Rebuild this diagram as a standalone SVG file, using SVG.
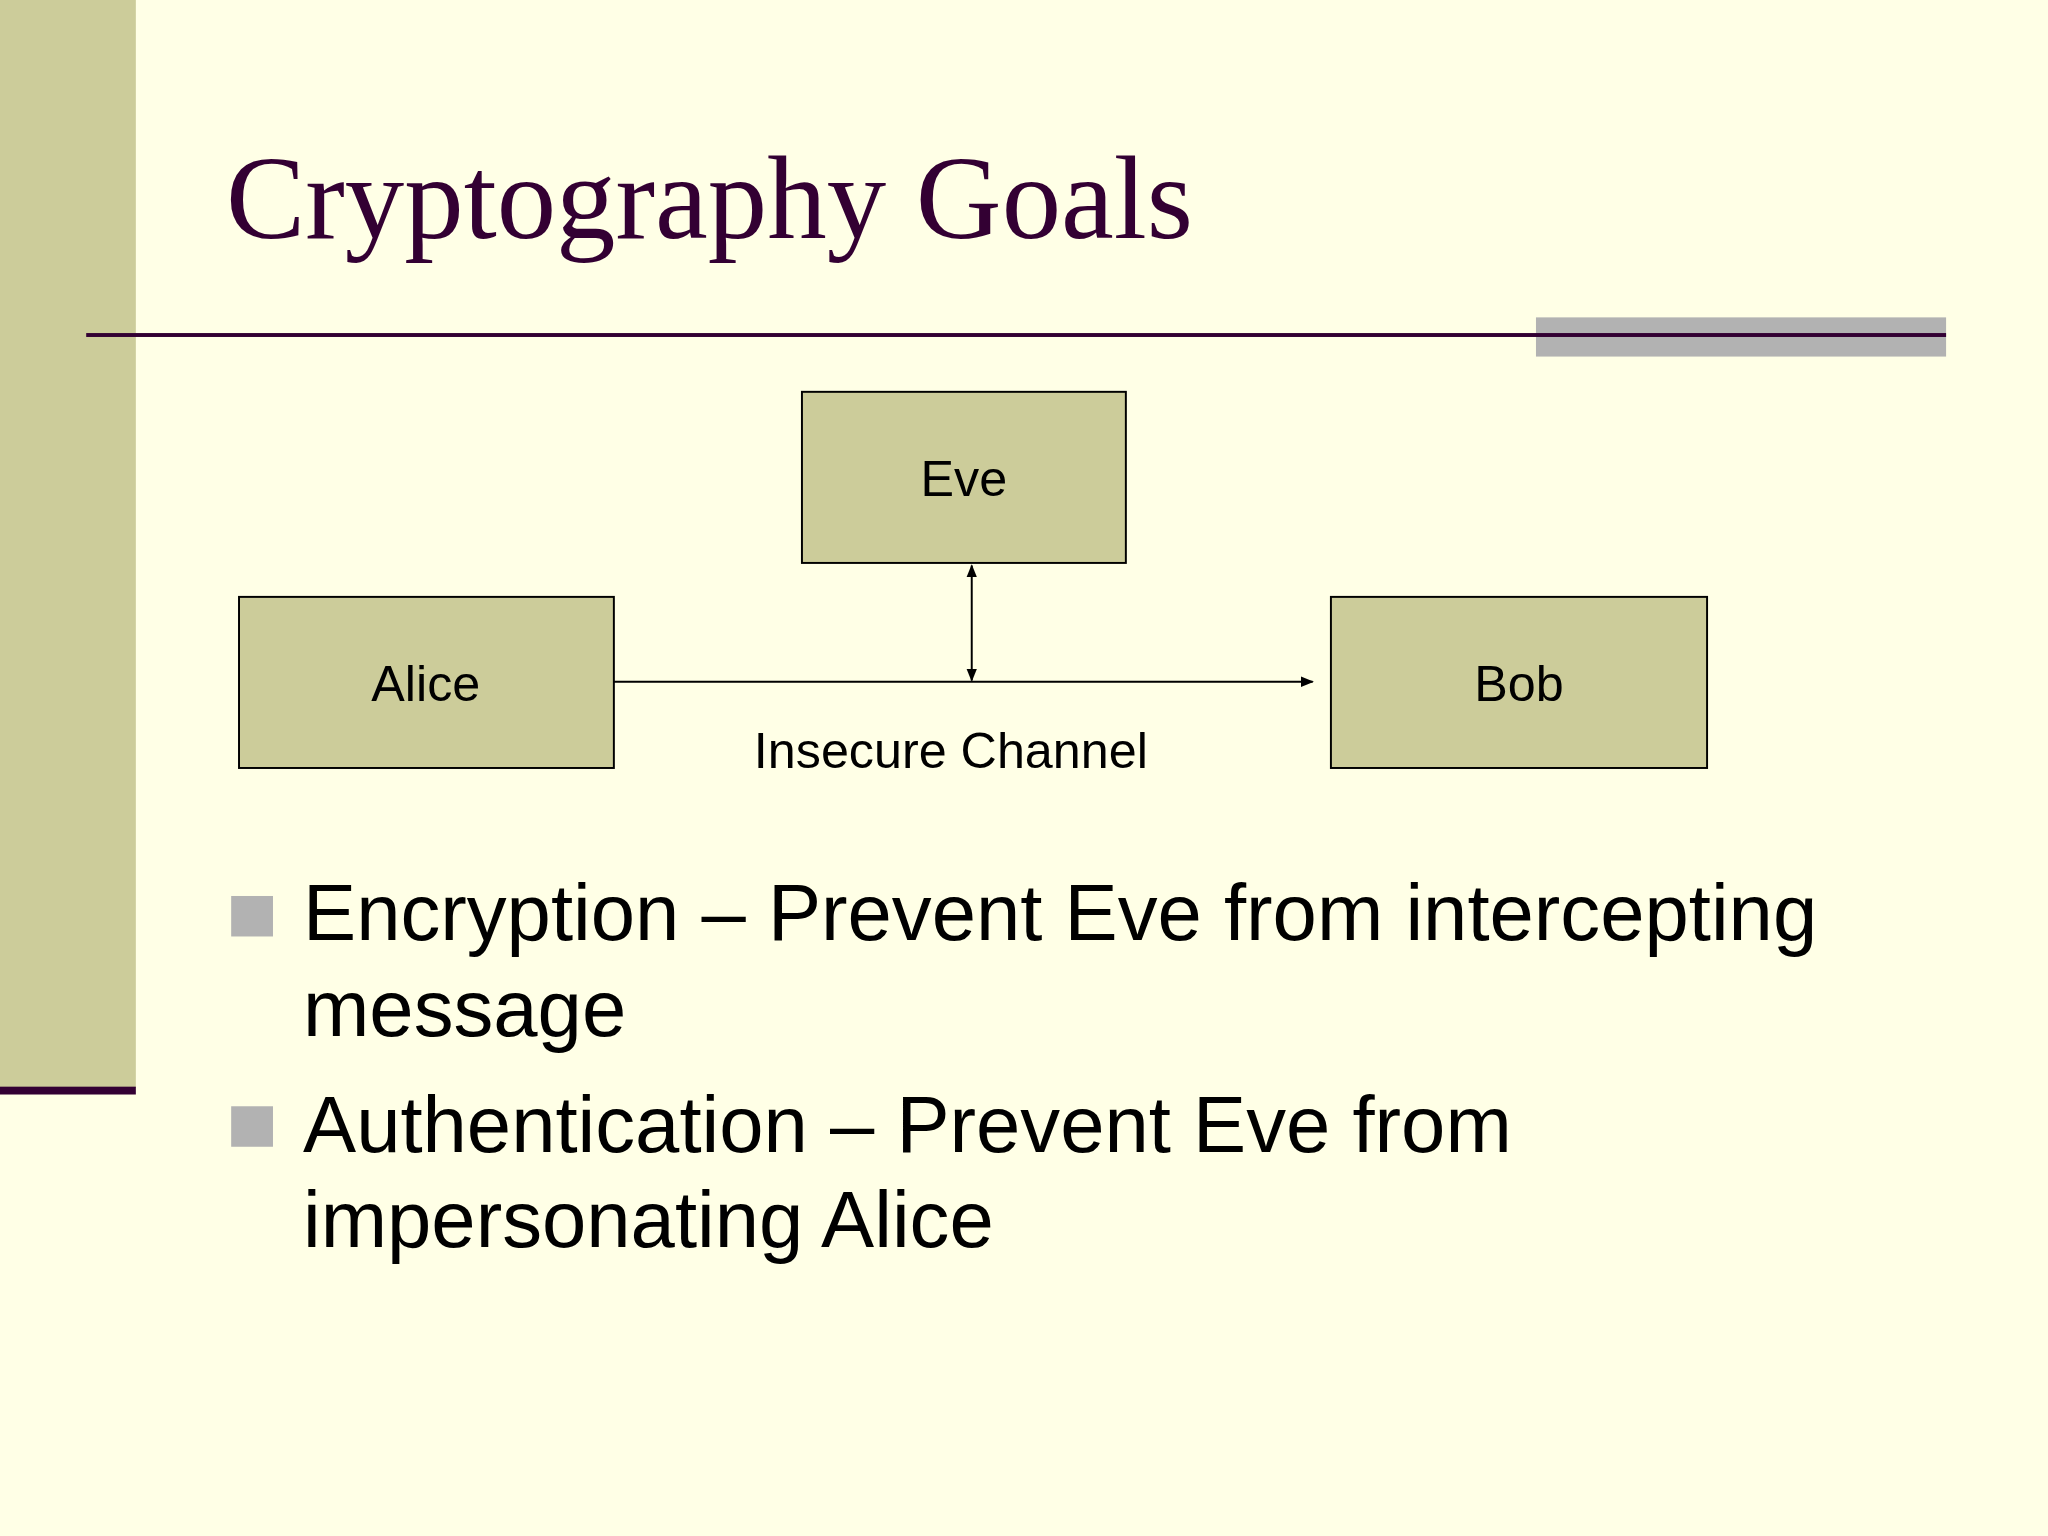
<svg xmlns="http://www.w3.org/2000/svg" width="2048" height="1536" viewBox="0 0 2048 1536">
<defs>
<marker id="ah" markerWidth="10" markerHeight="10" refX="9" refY="5" orient="auto-start-reverse" markerUnits="userSpaceOnUse"><path d="M0,1 L10,5 L0,9 Z" fill="#000"/></marker>
<style>
.box{fill:#cccc9a;stroke:#000;stroke-width:1.5}
.lbl{font-family:"Liberation Sans",Arial,sans-serif;font-size:38.5px;fill:#000;text-anchor:middle}
.bul{font-family:"Liberation Sans",Arial,sans-serif;font-size:61px;fill:#000}
.conn{stroke:#000;stroke-width:1.5;fill:none}
</style>
</defs>
<rect width="2048" height="1536" fill="#ffffe6"/>
<g transform="scale(1.3061)">
<rect x="0" y="0" width="104" height="833" fill="#cccc9a"/>
<rect x="0" y="832" width="104" height="6" fill="#330033"/>
<text x="173" y="182" font-family="Liberation Serif,Times New Roman,serif" font-size="91" fill="#330033">Cryptography Goals</text>
<rect x="1176" y="243" width="314" height="30" fill="#b2b2b2"/>
<rect x="66" y="255" width="1424" height="3" fill="#330033"/>
<g id="eve"><rect class="box" x="614" y="300" width="248" height="131"/><text class="lbl" x="738" y="380">Eve</text></g>
<g id="alice"><rect class="box" x="183" y="457" width="287" height="131"/><text class="lbl" x="326" y="537">Alice</text></g>
<g id="bob"><rect class="box" x="1019" y="457" width="288" height="131"/><text class="lbl" x="1163" y="537">Bob</text></g>
<g id="connectors">
<line class="conn" x1="470" y1="522" x2="1005" y2="522" marker-end="url(#ah)"/>
<line class="conn" x1="744" y1="433" x2="744" y2="521" marker-start="url(#ah)" marker-end="url(#ah)"/>
</g>
<text class="lbl" x="728" y="588">Insecure Channel</text>
<rect x="177" y="686" width="32" height="31" fill="#b2b2b2"/>
<text class="bul" x="232" y="720">Encryption – Prevent Eve from intercepting</text>
<text class="bul" x="232" y="793">message</text>
<rect x="177" y="847" width="32" height="31" fill="#b2b2b2"/>
<text class="bul" x="232" y="882">Authentication – Prevent Eve from</text>
<text class="bul" x="232" y="955">impersonating Alice</text>
</g>
</svg>
